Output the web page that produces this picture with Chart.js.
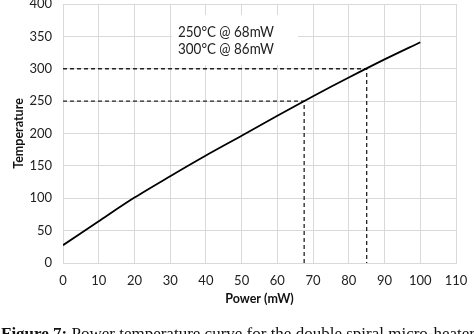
<!DOCTYPE html>
<html>
<head>
<meta charset="utf-8">
<script src="https://cdn.jsdelivr.net/npm/chart.js@4/dist/chart.umd.min.js"></script>
<style>
  html, body { margin: 0; padding: 0; background: #fff; }
  #wrap { width: 474px; height: 334px; }
</style>
</head>
<body>
<div id="wrap"><canvas id="myChart" width="474" height="334"></canvas></div>
<script>
// measured heater curve
const power = [0, 10, 20, 30, 40, 50, 60, 70, 80, 90, 100];
const temperature = [27.5, 64.5, 101, 134, 166, 196.5, 227.5, 257.5, 286.5, 314.5, 341];

// operating points
const point250 = { power: 67.5, temp: 250 };
const point300 = { power: 85, temp: 300 };

const notes = ['250°C @ 68mW', '300°C @ 86mW'];
const caption = ['Figure 7:', ' Power temperature curve for the double spiral micro-heater'];

const xTicks = [0, 110, 10];
const yTicks = [0, 400, 50];

window.onload = function() {
  var ctx = document.getElementById('myChart').getContext('2d');

  const curve = power.map((p, i) => ({ x: p, y: temperature[i] }));
  const guide = pt => [{ x: 0, y: pt.temp }, { x: pt.power, y: pt.temp }, { x: pt.power, y: 0 }];

  const dashed = {
    borderColor: '#222',
    borderWidth: 1.3,
    borderDash: [4, 3],
    pointRadius: 0,
    fill: false,
    tension: 0
  };

  // white note box and the figure caption
  const extras = {
    id: 'extras',
    beforeDatasetsDraw(chart) {
      const c = chart.ctx;
      c.save();
      c.fillStyle = '#fff';
      c.fillRect(172, 15, 126, 50);
      c.fillStyle = '#222';
      c.font = '15px Lato';
      c.textBaseline = 'alphabetic';
      c.fillText(notes[0], 178, 37, 96);
      c.fillText(notes[1], 178, 54, 96);
      c.restore();
    },
    afterDraw(chart) {
      const c = chart.ctx;
      c.save();
      c.fillStyle = '#111';
      c.textBaseline = 'alphabetic';
      c.font = 'bold 17px "Liberation Serif"';
      c.fillText(caption[0], 1, 339);
      const w = c.measureText(caption[0]).width;
      c.font = '17px "Liberation Serif"';
      c.fillText(caption[1], 1 + w, 339, 474 - w);
      c.restore();
    }
  };

  new Chart(ctx, {
    type: 'line',
    data: {
      datasets: [
        {
          data: curve,
          borderColor: '#000',
          borderWidth: 1.8,
          pointRadius: 0,
          fill: false,
          tension: 0.3
        },
        Object.assign({ data: guide(point250) }, dashed),
        Object.assign({ data: guide(point300) }, dashed)
      ]
    },
    options: {
      responsive: false,
      animation: false,
      layout: { padding: { top: 4, right: 18, left: 0, bottom: 0 } },
      plugins: {
        legend: { display: false },
        tooltip: { enabled: false }
      },
      scales: {
        x: {
          type: 'linear',
          min: xTicks[0],
          max: xTicks[1],
          grid: { color: '#d9d9d9', drawTicks: false },
          border: { color: '#d9d9d9' },
          ticks: {
            stepSize: xTicks[2],
            padding: 10,
            color: '#222',
            font: { family: 'Lato', size: 13 }
          },
          title: {
            display: true,
            text: 'Power (mW)',
            color: '#111',
            font: { family: 'Lato', size: 12.5, weight: 'bold' },
            padding: { top: 0, bottom: 28 }
          },
          afterFit(scale) {
            scale.height = 71;
            scale.paddingLeft = 0;
            scale.paddingRight = 0;
          }
        },
        y: {
          min: yTicks[0],
          max: yTicks[1],
          grid: { color: '#d9d9d9', drawTicks: false },
          border: { color: '#d9d9d9' },
          ticks: {
            stepSize: yTicks[2],
            padding: 11,
            color: '#222',
            font: { family: 'Lato', size: 13 }
          },
          title: {
            display: true,
            text: 'Temperature',
            color: '#111',
            font: { family: 'Lato', size: 12.5, weight: 'bold' },
            padding: { top: 11, bottom: 0 }
          },
          afterFit(scale) {
            scale.width = 63;
            scale.paddingTop = 0;
            scale.paddingBottom = 0;
          }
        }
      }
    },
    plugins: [extras]
  });
};
</script>
</body>
</html>
